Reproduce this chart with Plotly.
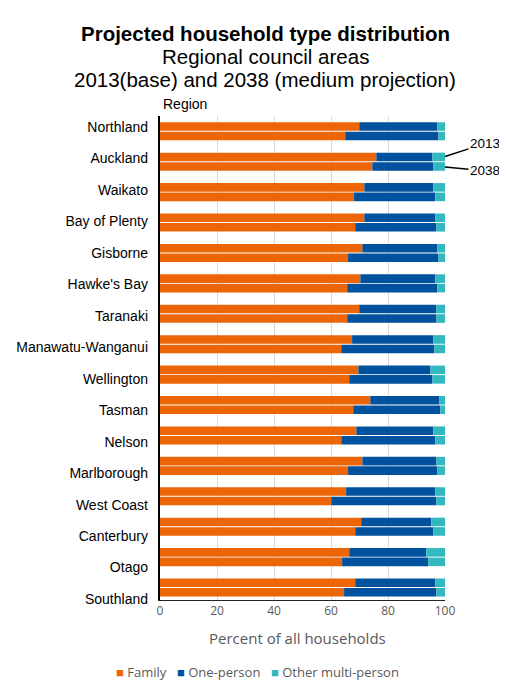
import plotly.graph_objects as go

regions = ["Northland", "Auckland", "Waikato", "Bay of Plenty", "Gisborne",
           "Hawke's Bay", "Taranaki", "Manawatu-Wanganui", "Wellington", "Tasman",
           "Nelson", "Marlborough", "West Coast", "Canterbury", "Otago", "Southland"]

# percent of all households
family_2013 = [69.9, 75.9, 71.7, 71.7, 71.0, 70.3, 69.9, 67.4, 69.6, 73.8, 68.9, 71.0, 65.3, 70.6, 66.4, 68.5]
one_2013 = [27.4, 19.7, 24.2, 24.9, 26.3, 26.3, 27.1, 28.5, 25.2, 24.2, 27.0, 26.0, 31.3, 24.6, 27.0, 28.1]
other_2013 = [2.7, 4.4, 4.1, 3.4, 2.7, 3.4, 3.0, 4.1, 5.2, 2.0, 4.1, 3.0, 3.4, 4.8, 6.6, 3.4]

family_2038 = [65.0, 74.5, 68.1, 68.5, 66.0, 65.7, 65.7, 63.6, 66.4, 67.8, 63.6, 66.0, 60.1, 68.5, 63.9, 64.6]
one_2038 = [32.7, 21.4, 28.5, 28.5, 31.7, 31.6, 31.3, 32.7, 29.2, 30.6, 33.0, 31.3, 36.9, 27.4, 30.2, 32.4]
other_2038 = [2.3, 4.1, 3.4, 3.0, 2.3, 2.7, 3.0, 3.7, 4.4, 1.6, 3.4, 2.7, 3.0, 4.1, 5.9, 3.0]

years = ["2013", "2038"]
series = ["Family", "One-person", "Other multi-person"]
colors = ["#EC6608", "#00529F", "#32B8BE"]

data = {
    "2013": [family_2013, one_2013, other_2013],
    "2038": [family_2038, one_2038, other_2038],
}

# page body has an 8px margin, so the figure is smaller and shifted
OFF = 8
W, H = 507 - OFF, 693 - 2 * OFF
L, R, T, B = 152, 62, 108, 85
pw, ph = W - L - R, H - T - B


def px(x):
    return (x - OFF - L) / pw


def py(y):
    return 1 - (y - OFF - T) / ph


fig = go.Figure()
for yr in years:
    base = [0] * len(regions)
    for name, vals, col in zip(series, data[yr], colors):
        fig.add_trace(go.Bar(
            y=regions, x=vals, base=base, orientation="h",
            name=name, marker=dict(color=col, line=dict(width=0)),
            offsetgroup=yr, showlegend=False,
        ))
        base = [b + v for b, v in zip(base, vals)]

# legend entries: small coloured square in front of the name, one legend per
# entry so they sit on one row like the original
legend_ids = ["legend", "legend2", "legend3"]
for name, col, lg in zip(series, colors, legend_ids):
    label = f'<span style="color:{col};font-size:13px">■</span> {name}'
    fig.add_trace(go.Scatter(x=[None], y=[None], mode="markers", name=label,
                             marker=dict(size=1, color="rgba(0,0,0,0)",
                                         line=dict(width=0)),
                             legend=lg, showlegend=True))

# separate label axis (Excel spaced the labels a bit wider than the bars)
fig.add_trace(go.Scatter(x=[None], y=[None], yaxis="y2", showlegend=False))

sans = "Liberation Sans, Arial, sans-serif"
ui = "Open Sans, Segoe UI, sans-serif"

legend_sq_x = [116, 177, 271]
legends = {}
for lg, sx in zip(legend_ids, legend_sq_x):
    legends[lg] = dict(orientation="h", xref="container", yref="container",
                       x=(sx - OFF - 40) / W, xanchor="left",
                       y=1 - (672 - OFF) / H, yanchor="middle",
                       font=dict(family=ui, size=13, color="#595959"),
                       itemwidth=30, bgcolor="rgba(0,0,0,0)")

fig.update_layout(
    width=W, height=H,
    margin=dict(l=L, r=R, t=T, b=B, autoexpand=False),
    plot_bgcolor="white", paper_bgcolor="white",
    font=dict(family=sans, color="#000"),
    barmode="group", bargap=0.375, bargroupgap=0.1,
    xaxis=dict(range=[0, 100], dtick=20, showgrid=True, gridcolor="#D9D9D9",
               gridwidth=1, zeroline=False, showline=True, linecolor="#222",
               tickfont=dict(family=ui, size=12, color="#595959"), ticks="",
               automargin=False),
    yaxis=dict(type="category", range=[15.41, -0.503], showticklabels=False,
               showgrid=False, showline=True, linecolor="#000", linewidth=1.5,
               ticks="", automargin=False),
    yaxis2=dict(overlaying="y", side="left", range=[15.03, -0.35],
                tickmode="array", tickvals=list(range(len(regions))),
                ticktext=regions, showgrid=False, zeroline=False,
                showline=False, ticks="", ticklabelstandoff=11, automargin=False,
                tickfont=dict(family=sans, size=14, color="#000")),
    **legends,
    annotations=[
        dict(text="<b>Projected household type distribution</b>", xref="paper", yref="paper",
             x=px(265), y=py(33), xanchor="center", yanchor="middle", showarrow=False,
             font=dict(family=sans, size=20.5, color="#000")),
        dict(text="Regional council areas", xref="paper", yref="paper",
             x=px(265), y=py(57), xanchor="center", yanchor="middle", showarrow=False,
             font=dict(family=sans, size=20.5, color="#000")),
        dict(text="2013(base) and 2038 (medium projection)", xref="paper", yref="paper",
             x=px(265), y=py(79), xanchor="center", yanchor="middle", showarrow=False,
             font=dict(family=sans, size=20.5, color="#000")),
        dict(text="Region", xref="paper", yref="paper", x=px(161), y=py(104),
             xanchor="left", yanchor="middle", showarrow=False,
             font=dict(family=sans, size=14, color="#000")),
        dict(text="Percent of all households", xref="paper", yref="paper",
             x=px(297), y=py(638), xanchor="center", yanchor="middle", showarrow=False,
             font=dict(family=ui, size=15, color="#595959")),
        dict(text="2013", x=100, y=0.83, xref="x", yref="y", showarrow=True,
             arrowhead=0, arrowwidth=1.5, arrowcolor="#000", ax=40, ay=-13,
             font=dict(family=sans, size=13.5, color="#000")),
        dict(text="2038", x=100, y=1.17, xref="x", yref="y", showarrow=True,
             arrowhead=0, arrowwidth=1.5, arrowcolor="#000", ax=40, ay=4,
             font=dict(family=sans, size=13.5, color="#000")),
    ],
)

fig.write_html("out.html")
